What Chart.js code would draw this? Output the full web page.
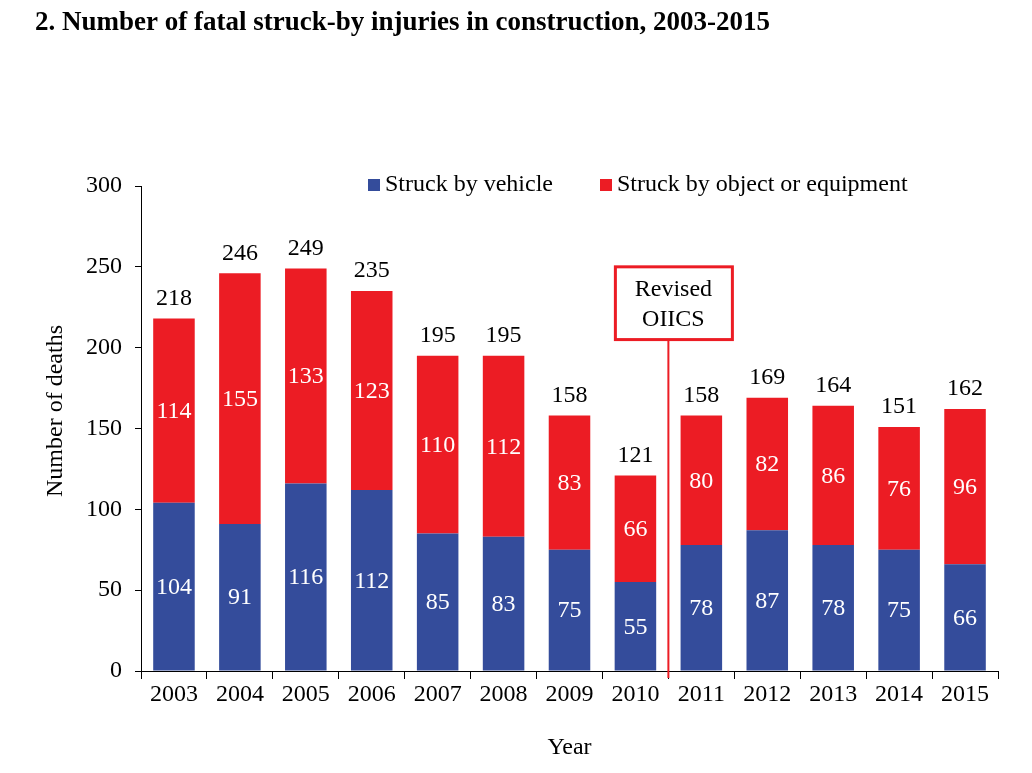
<!DOCTYPE html>
<html>
<head>
<meta charset="utf-8">
<script src="https://cdn.jsdelivr.net/npm/chart.js@4.4.1/dist/chart.umd.min.js"></script>
<style>
  html, body { margin: 0; padding: 0; background: #fff; }
  #wrap { width: 1032px; height: 773px; }
</style>
</head>
<body>
<div id="wrap"><canvas id="chartStruck"></canvas></div>
<script>
const anos = ['2003', '2004', '2005', '2006', '2007', '2008', '2009', '2010', '2011', '2012', '2013', '2014', '2015'];
const porVeiculo = [104, 91, 116, 112, 85, 83, 75, 55, 78, 87, 78, 75, 66];
const porObjeto = [114, 155, 133, 123, 110, 112, 83, 66, 80, 82, 86, 76, 96];
const totais = [218, 246, 249, 235, 195, 195, 158, 121, 158, 169, 164, 151, 162];
const yTicks = [0, 50, 100, 150, 200, 250, 300];

const AZUL = '#344c9b';
const VERMELHO = '#ec1c24';
const FONTE = '"Liberation Serif", "Times New Roman", serif';

// rotulos, legenda, titulos e caixa "Revised OIICS"
const desenhoExtra = {
    id: 'desenhoExtra',
    afterDatasetsDraw(chart) {
        const ctx = chart.ctx;
        const xs = chart.scales.x;
        const ys = chart.scales.y;
        ctx.save();

        // valores dentro das barras
        ctx.textAlign = 'center';
        ctx.textBaseline = 'middle';
        ctx.font = '24px ' + FONTE;
        ctx.fillStyle = '#fff';
        chart.data.datasets.forEach((ds, i) => {
            chart.getDatasetMeta(i).data.forEach((bar, j) => {
                ctx.fillText(ds.data[j], bar.x, (bar.y + bar.base) / 2 + 1);
            });
        });

        // totais
        ctx.fillStyle = '#000';
        chart.getDatasetMeta(1).data.forEach((bar, j) => {
            ctx.fillText(totais[j], bar.x, bar.y - 20);
        });

        // linha e caixa Revised OIICS
        const xLinha = (xs.getPixelForValue(7) + xs.getPixelForValue(8)) / 2;
        const topo = ys.getPixelForValue(250);
        const baixo = ys.getPixelForValue(205);
        ctx.strokeStyle = VERMELHO;
        ctx.lineWidth = 2;
        ctx.beginPath();
        ctx.moveTo(xLinha, baixo);
        ctx.lineTo(xLinha, ys.bottom + 7);
        ctx.stroke();
        ctx.lineWidth = 3;
        ctx.fillStyle = '#fff';
        ctx.fillRect(xLinha - 53, topo, 117, baixo - topo);
        ctx.strokeRect(xLinha - 53, topo, 117, baixo - topo);
        ctx.fillStyle = '#000';
        ctx.fillText('Revised', xLinha + 5, topo + 23);
        ctx.fillText('OIICS', xLinha + 5, topo + 53);

        // legenda
        ctx.textAlign = 'left';
        ctx.font = '24px ' + FONTE;
        ctx.fillStyle = AZUL;
        ctx.fillRect(368, 179, 12, 12);
        ctx.fillStyle = '#000';
        ctx.fillText('Struck by vehicle', 385, 185);
        ctx.fillStyle = VERMELHO;
        ctx.fillRect(600, 179, 12, 12);
        ctx.fillStyle = '#000';
        ctx.fillText('Struck by object or equipment', 617, 185);

        // titulo
        ctx.font = 'bold 27px ' + FONTE;
        ctx.fillText('2. Number of fatal struck-by injuries in construction, 2003-2015', 35, 23);

        // titulos dos eixos
        ctx.font = '24px ' + FONTE;
        ctx.textAlign = 'center';
        ctx.fillText('Year', (xs.left + xs.right) / 2, 748);
        ctx.translate(56, 411);
        ctx.rotate(-Math.PI / 2);
        ctx.fillText('Number of deaths', 0, 0);

        ctx.restore();
    }
};

const ctx = document.getElementById('chartStruck');
new Chart(ctx, {
    type: 'bar',
    data: {
        labels: anos,
        datasets: [{
            label: 'Struck by vehicle',
            data: porVeiculo,
            backgroundColor: AZUL,
            barPercentage: 0.63,
            categoryPercentage: 1
        }, {
            label: 'Struck by object or equipment',
            data: porObjeto,
            backgroundColor: VERMELHO,
            barPercentage: 0.63,
            categoryPercentage: 1
        }]
    },
    options: {
        responsive: true,
        maintainAspectRatio: false,
        animation: false,
        layout: { padding: { left: 0, right: 34, top: 186, bottom: 0 } },
        plugins: {
            legend: { display: false },
            tooltip: { enabled: false }
        },
        scales: {
            x: {
                stacked: true,
                afterFit: (scale) => { scale.height = 102; },
                border: { display: true, color: '#000', width: 1 },
                grid: { drawOnChartArea: false, drawTicks: true, tickLength: 8, color: '#000', offset: true },
                ticks: { color: '#000', padding: 1, maxRotation: 0, font: { family: FONTE, size: 24 } }
            },
            y: {
                stacked: true,
                min: 0,
                max: 300,
                afterFit: (scale) => { scale.width = 141; },
                afterBuildTicks: (scale) => { scale.ticks = yTicks.map(v => ({ value: v })); },
                border: { display: true, color: '#000', width: 1 },
                grid: { drawOnChartArea: false, drawTicks: true, tickLength: 6, color: '#000' },
                ticks: { color: '#000', padding: 13, font: { family: FONTE, size: 24 } }
            }
        }
    },
    plugins: [desenhoExtra]
});
</script>
</body>
</html>
